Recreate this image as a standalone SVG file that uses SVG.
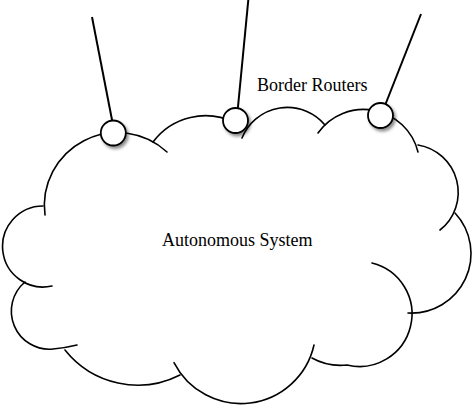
<svg xmlns="http://www.w3.org/2000/svg" width="474" height="407" viewBox="0 0 474 407">
<defs>
<style>
.arc{fill:none;stroke:#000;stroke-width:1.6;stroke-linecap:round}
.link{fill:none;stroke:#000;stroke-width:2}
.router{fill:#fff;stroke:#000;stroke-width:1.8;filter:url(#sh)}
.lbl{font-family:"Liberation Serif","Times New Roman",serif;font-size:18px;fill:#000}
</style>
<filter id="sh" x="-50%" y="-50%" width="200%" height="200%">
<feDropShadow dx="2" dy="2.5" stdDeviation="1.5" flood-color="#000" flood-opacity="0.45"/>
</filter>
</defs>
<rect width="474" height="407" fill="#fff"/>
<g id="autonomous-system">
<path class="arc" d="M45,215 A73,73 0 0,1 167,152"/>
<path class="arc" d="M153,142 A65,65 0 0,1 235,123"/>
<path class="arc" d="M242,138 A49,49 0 0,1 325,125"/>
<path class="arc" d="M318,133 A56,56 0 0,1 418,152"/>
<path class="arc" d="M418,145 A48,48 0 0,1 440,230"/>
<path class="arc" d="M455,213 A59.5,59.5 0 0,1 408,313"/>
<path class="arc" d="M372,263 A52.5,52.5 0 0,1 347,365 Q328,367 312,358"/>
<path class="arc" d="M314,345 A75,75 0 0,1 174,362.6"/>
<path class="arc" d="M180,375 A93,93 0 0,1 65,350"/>
<path class="arc" d="M25,282 A38,38 0 0,0 53,349 Q65,348 77,345"/>
<path class="arc" d="M43,206 A40.5,40.5 0 1,0 52,286"/>
<text class="lbl" x="162" y="246">Autonomous System</text>
</g>
<g id="connectors">
<line class="link" x1="92" y1="17" x2="113" y2="125"/>
<line class="link" x1="248.3" y1="0" x2="237.5" y2="112"/>
<line class="link" x1="421" y1="14" x2="384" y2="108"/>
</g>
<g id="router-1"><circle class="router" cx="113.3" cy="133" r="12.5"/></g>
<g id="router-2"><circle class="router" cx="235.5" cy="120.5" r="12.5"/></g>
<g id="router-3"><circle class="router" cx="380.5" cy="115.5" r="12.5"/></g>
<g id="label-border-routers"><text class="lbl" x="257" y="91">Border Routers</text></g>
</svg>
